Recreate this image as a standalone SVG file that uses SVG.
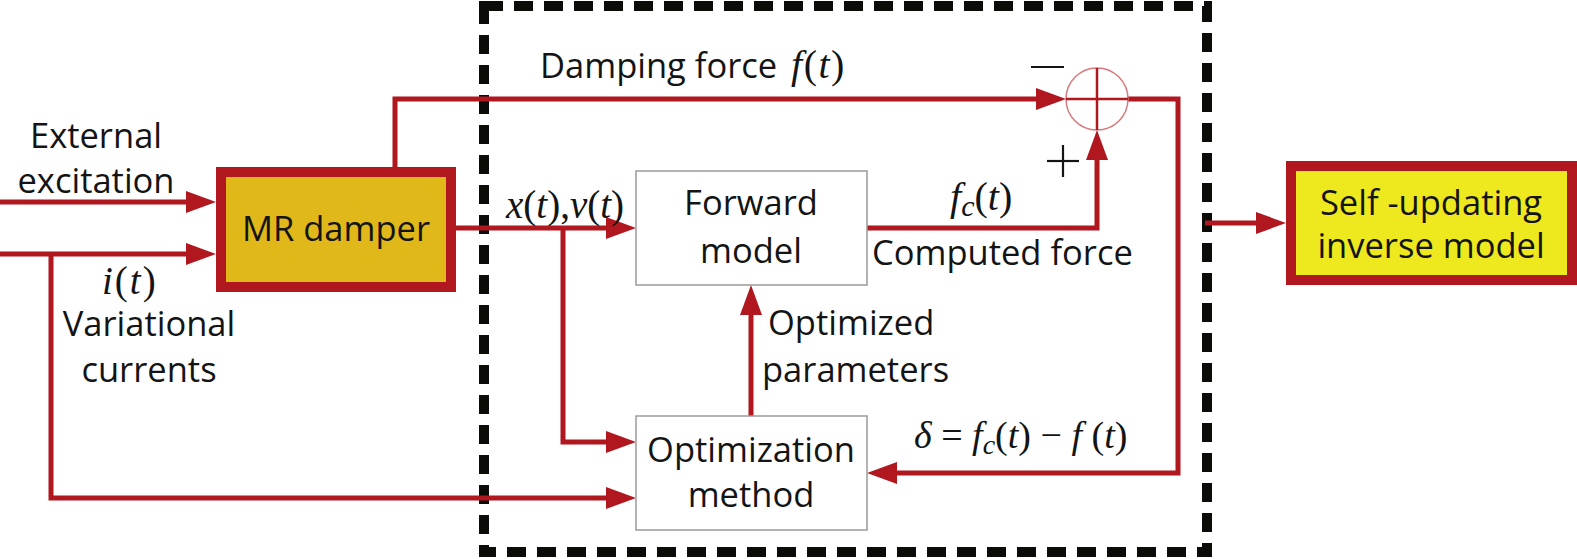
<svg xmlns="http://www.w3.org/2000/svg" width="1577" height="559" viewBox="0 0 1577 559">
<style>
.lbl{font-family:"Open Sans","Liberation Sans",sans-serif;font-size:34.5px;fill:#141414}
.m{font-family:"Liberation Serif","Times New Roman",serif;fill:#141414}
.i{font-style:italic}
.wire{fill:none;stroke:#B0171F;stroke-width:5}
.arr{marker-end:url(#ah)}
.gbox{fill:#fff;stroke:#9a9a9a;stroke-width:1.5}
</style>
<defs>
<marker id="ah" markerUnits="userSpaceOnUse" markerWidth="30" markerHeight="22" refX="22" refY="11" orient="auto">
<path d="M0,0 L30,11 L0,22 z" fill="#B0171F"/>
</marker>
</defs>
<rect width="1577" height="559" fill="#fff"/>

<g id="boundary">
<rect x="484" y="6" width="723" height="546" fill="none" stroke="#0b0b08" stroke-width="10" stroke-dasharray="19 11"/>
</g>

<g id="connectors">
<path class="wire arr" d="M0,202 H208"/>
<path class="wire arr" d="M0,254 H208"/>
<path class="wire arr" d="M51,254 V498 H628"/>
<path class="wire arr" d="M456,228 H628"/>
<path class="wire arr" d="M563,228 V442 H628"/>
<path class="wire arr" d="M395,167 V99 H1058"/>
<path class="wire arr" d="M867,228 H1097 V138"/>
<path class="wire arr" d="M1128,99 H1178 V473 H875"/>
<path class="wire arr" d="M751,416 V293"/>
<path class="wire arr" d="M1205,223 H1278"/>
</g>

<g id="sum">
<circle cx="1097" cy="99" r="31" fill="none" stroke="#d9787c" stroke-width="1.5"/>
<line x1="1066" y1="99" x2="1128" y2="99" stroke="#B0171F" stroke-width="2.5"/>
<line x1="1097" y1="68" x2="1097" y2="130" stroke="#B0171F" stroke-width="2.5"/>
<line x1="1031" y1="67" x2="1064" y2="67" stroke="#141414" stroke-width="2.2"/>
<line x1="1047" y1="161" x2="1079" y2="161" stroke="#141414" stroke-width="2.2"/>
<line x1="1063" y1="145" x2="1063" y2="177" stroke="#141414" stroke-width="2.2"/>
</g>

<g id="mr-damper">
<rect x="221" y="172" width="230" height="115" fill="#E0B81A" stroke="#B0171F" stroke-width="10"/>
<text class="lbl" x="336" y="241" text-anchor="middle">MR damper</text>
</g>

<g id="forward-model">
<rect class="gbox" x="636" y="171" width="231" height="114"/>
<text class="lbl" x="751" y="215" text-anchor="middle">Forward</text>
<text class="lbl" x="751" y="263" text-anchor="middle">model</text>
</g>

<g id="optimization-method">
<rect class="gbox" x="636" y="416" width="231" height="114"/>
<text class="lbl" x="751" y="462" text-anchor="middle">Optimization</text>
<text class="lbl" x="751" y="507" text-anchor="middle">method</text>
</g>

<g id="inverse-model">
<rect x="1291" y="166" width="281" height="114" fill="#EEE81F" stroke="#B0171F" stroke-width="10"/>
<text class="lbl" x="1431" y="215" text-anchor="middle">Self -updating</text>
<text class="lbl" x="1431" y="258" text-anchor="middle">inverse model</text>
</g>

<g id="labels">
<text class="lbl" x="96" y="148" text-anchor="middle">External</text>
<text class="lbl" x="96" y="193" text-anchor="middle">excitation</text>
<text class="m" x="102" y="294" font-size="39" letter-spacing="2"><tspan class="i">i</tspan>(<tspan class="i">t</tspan>)</text>
<text class="lbl" x="149" y="336" text-anchor="middle">Variational</text>
<text class="lbl" x="149" y="382" text-anchor="middle">currents</text>
<text class="lbl" x="540" y="78">Damping force</text>
<text class="m" x="791" y="78" font-size="40" letter-spacing="1.5"><tspan class="i">f</tspan>(<tspan class="i">t</tspan>)</text>
<text class="m" x="506" y="218" font-size="39"><tspan class="i">x</tspan>(<tspan class="i">t</tspan>),<tspan class="i">v</tspan>(<tspan class="i">t</tspan>)</text>
<text class="m" x="950" y="210" font-size="40"><tspan class="i">f</tspan><tspan class="i" font-size="30" dy="6">c</tspan><tspan dy="-6">(</tspan><tspan class="i">t</tspan>)</text>
<text class="lbl" x="872" y="265">Computed force</text>
<text class="lbl" x="768" y="335">Optimized</text>
<text class="lbl" x="762" y="382">parameters</text>
<text class="m" x="914" y="448" font-size="38"><tspan class="i">δ</tspan> = <tspan class="i">f</tspan><tspan class="i" font-size="28" dy="6">c</tspan><tspan dy="-6">(</tspan><tspan class="i">t</tspan>) − <tspan class="i">f</tspan> (<tspan class="i">t</tspan>)</text>
</g>
</svg>
